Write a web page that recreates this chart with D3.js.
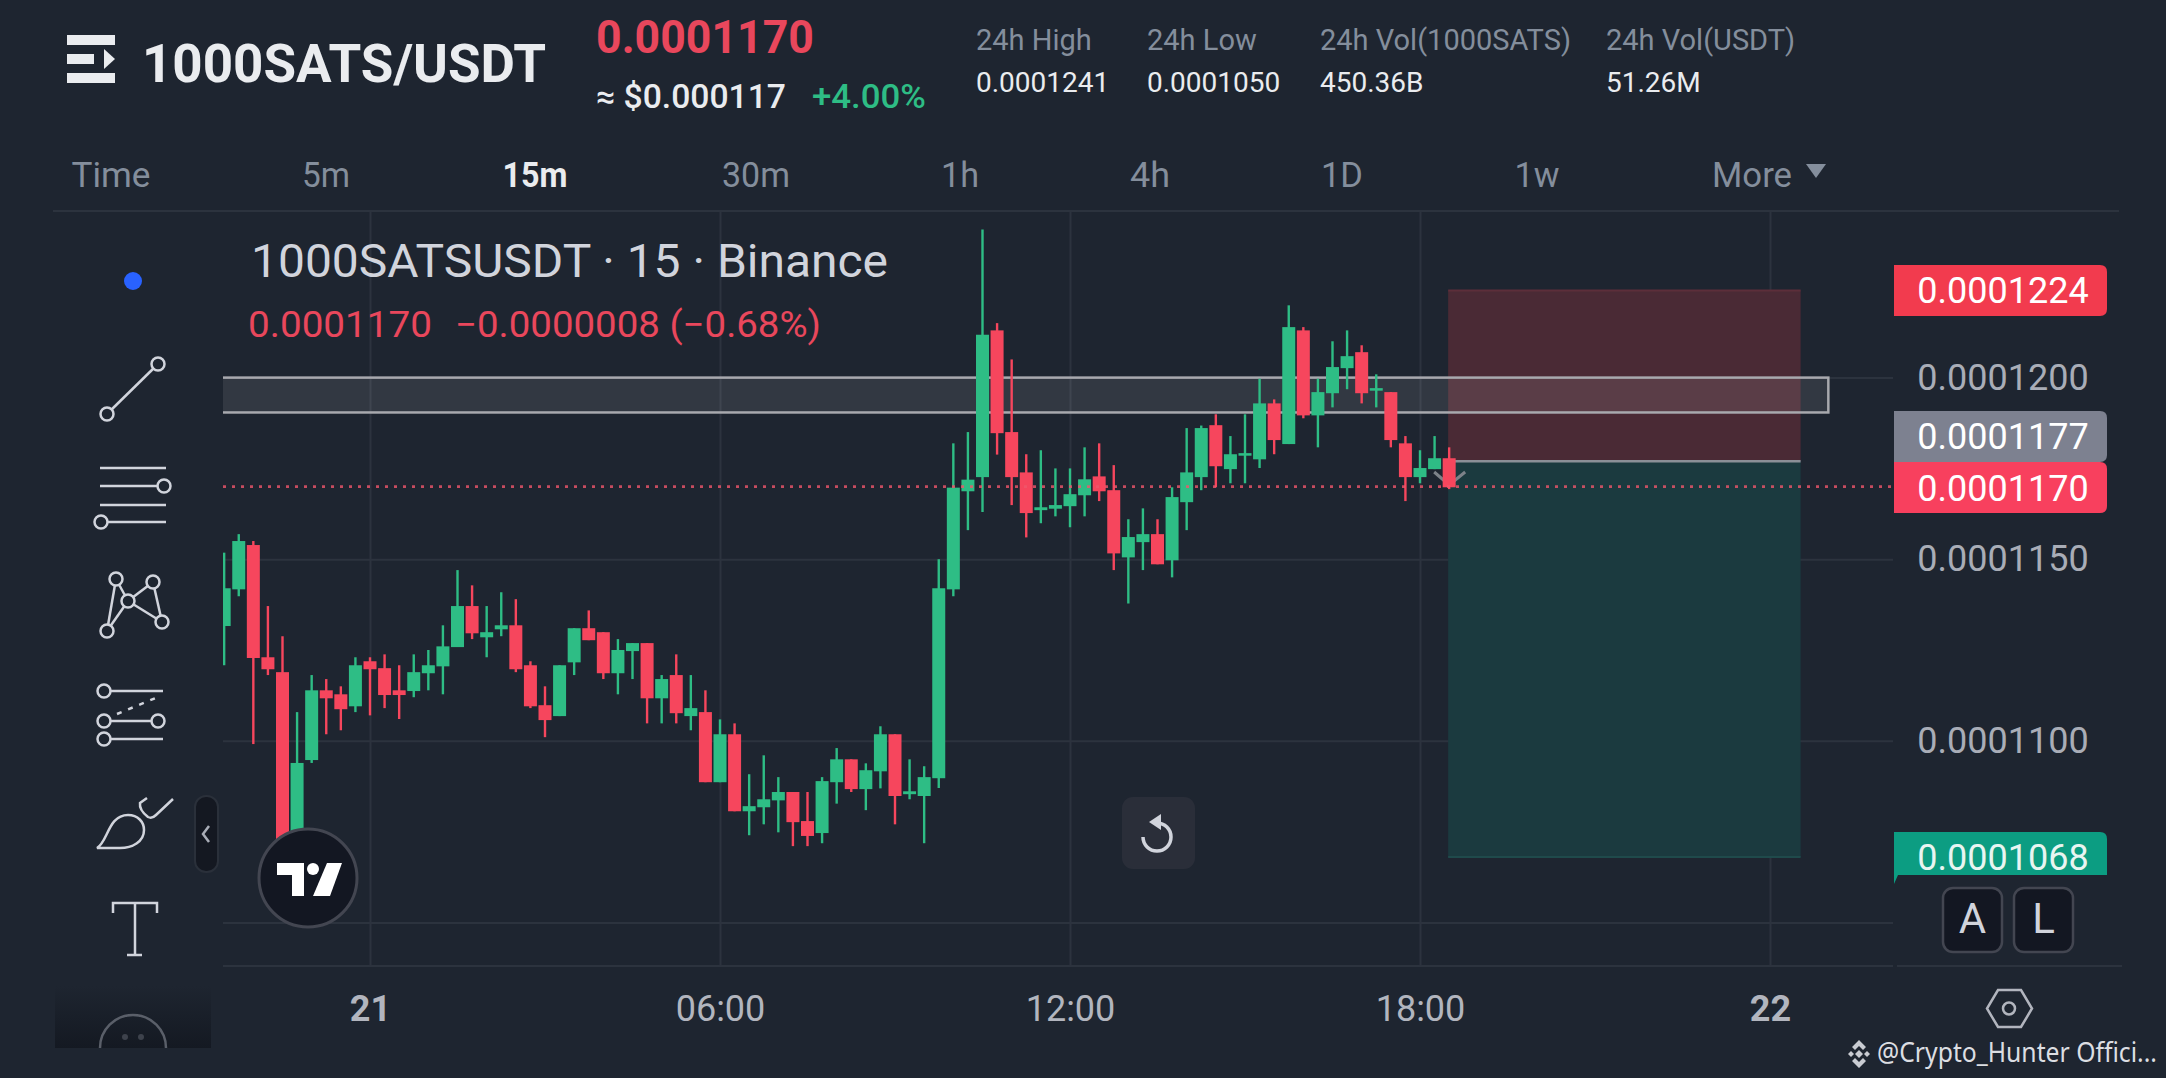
<!DOCTYPE html>
<html>
<head>
<meta charset="utf-8">
<script src="https://cdn.jsdelivr.net/npm/d3@7"></script>
<style>
  html, body { margin: 0; padding: 0; background: #1e2530; overflow: hidden; }
  svg { display: block; }
  text { font-family: Roboto, sans-serif; }
</style>
</head>
<body>
<div id="chart-area"></div>
<script>
// prices are in units of 0.0000001, bar index 0 = the 21st 00:00, one bar = 15 min
const firstBar = -10
const opens = [1131.6,1141.7,1153.9,1123.0,1118.9,1062,1094.7,1113.9,1112.8,1109.5,
  1121.9,1120.0,1113.9,1113.7,1118.6,1120.5,1125.8,1137.1,1128.5,1130.7,
  1131.8,1120.8,1109.8,1106.8,1121.6,1131.0,1129.9,1118.6,1124.7,1126.9,
  1111.7,1118.1,1106.8,1107.9,1088.6,1101.8,1080.6,1081.7,1083.6,1085.9,
  1077.9,1074.6,1088.6,1094.9,1086.7,1091.6,1101.8,1085.3,1084.8,1089.7,
  1141.7,1168.7,1172.6,1213.0,1185.0,1173.9,1163.5,1163.9,1164.6,1167.6,
  1172.8,1169.0,1150.5,1154.7,1156.9,1149.7,1165.7,1172.6,1186.9,1174.8,
  1178.5,1177.5,1192.9,1181.7,1213.0,1189.6,1195.7,1202.6,1207.0,1196.4,
  1196.0,1181.9,1172.6,1174.8,1177.8]
const highs = [1151.8,1156.9,1155.0,1137.1,1128.8,1107.9,1118.1,1117.0,1115.0,1123.0,
  1123.0,1123.8,1120.8,1123.8,1125.0,1131.8,1147.0,1142.8,1137.1,1140.9,
  1139.0,1121.9,1115.0,1120.8,1131.0,1135.9,1129.9,1128.0,1126.9,1126.9,
  1118.1,1123.8,1118.1,1113.9,1105.9,1104.8,1090.8,1096.0,1090.0,1085.9,
  1085.9,1090.0,1098.0,1094.9,1093.8,1104.0,1101.8,1094.9,1093.0,1150.0,
  1181.9,1185.0,1240.8,1215.0,1205.0,1178.9,1180.0,1175.0,1175.0,1180.8,
  1181.9,1175.9,1161.0,1164.0,1161.0,1169.8,1186.1,1186.8,1189.9,1183.9,
  1189.9,1199.7,1194.0,1219.9,1213.9,1199.7,1210.0,1213.0,1208.9,1200.9,
  1196.0,1183.9,1180.0,1183.9,1180.8]
const lows = [1120.8,1139.8,1099.1,1118.1,1058,1056,1093.9,1101.8,1102.9,1107.9,
  1107.0,1109.0,1106.0,1112.0,1113.9,1112.8,1125.9,1128.0,1123.0,1128.8,
  1118.9,1109.0,1101.0,1106.8,1118.1,1127.7,1117.0,1112.8,1117.0,1104.8,
  1104.8,1104.8,1102.9,1088.6,1088.6,1080.6,1074.0,1077.0,1074.8,1071.0,
  1071.0,1071.8,1082.7,1085.9,1080.9,1086.9,1077.0,1083.9,1071.8,1087.0,
  1139.8,1158.0,1163.0,1178.8,1164.9,1156.0,1159.9,1161.8,1158.8,1161.8,
  1166.0,1147.0,1137.8,1147.0,1148.6,1145.0,1158.0,1169.0,1169.8,1170.9,
  1170.9,1175.1,1178.9,1181.7,1188.8,1180.8,1191.8,1196.8,1192.9,1191.8,
  1180.8,1166.0,1170.9,1174.8,1169.3]
const closes = [1142.0,1155.0,1122.8,1119.7,1062,1093.9,1113.9,1111.7,1108.7,1120.8,
  1119.7,1112.6,1112.6,1118.9,1120.8,1126.0,1137.1,1129.6,1129.9,1131.8,
  1119.7,1109.5,1105.7,1120.8,1131.0,1127.7,1118.6,1125.0,1126.9,1111.7,
  1117.0,1107.6,1109.0,1088.6,1101.8,1080.6,1082.0,1083.9,1085.9,1077.6,
  1073.8,1088.9,1094.9,1086.7,1091.9,1101.8,1084.8,1086.1,1090.0,1142.0,
  1169.7,1171.9,1211.8,1184.7,1172.6,1162.7,1164.3,1164.9,1167.9,1172.0,
  1168.7,1151.6,1156.1,1156.9,1148.6,1167.1,1173.9,1186.1,1175.6,1178.9,
  1179.2,1192.9,1182.8,1213.9,1189.6,1196.0,1202.9,1205.9,1195.7,1197.1,
  1182.8,1172.6,1175.1,1177.8,1169.8]

const gridPrices = [1200, 1150, 1100, 1050]
const axisPrices = [1200, 1150, 1100]
const timeTicks = [0, 24, 48, 72, 96]
const timeLabels = ["21", "06:00", "12:00", "18:00", "22"]
const boldTimes = ["21", "22"]

const lastPrice = 1170
const positionEntry = 1177
const positionStop = 1224
const positionTarget = 1068
const positionBars = [73.93, 98.1]
const zonePrices = [1200, 1190.4]
const zoneEndBar = 100

const tabs = ["Time", "5m", "15m", "30m", "1h", "4h", "1D", "1w", "More"]
const tabCenters = [111, 326, 535, 756, 960, 1150, 1342, 1537, 1752]
const tabWidths = [79, 48, 65, 68, 38, 40, 42, 45, 80]
const statNames = ["24h High", "24h Low", "24h Vol(1000SATS)", "24h Vol(USDT)"]
const statValues = ["0.0001241", "0.0001050", "450.36B", "51.26M"]
const statLefts = [976, 1147, 1320, 1606]

const RED = "#f6465d", GREEN = "#2ebd85", BG = "#1e2530", GRID = "#2c333e"
const plot = { left: 223, right: 1893, top: 211, bottom: 966 }

const svg = d3.select("#chart-area").append("svg")
  .attr("width", 2166).attr("height", 1078)

svg.append("rect").attr("width", 2166).attr("height", 1078).attr("fill", BG)

const x = d3.scaleLinear().domain([0, 96]).range([370, 1770])
const y = d3.scaleLinear().domain([1050, 1200]).range([922.4, 377.6])
const priceText = v => d3.format(".7f")(v / 1e7)

const defs = svg.append("defs")
defs.append("clipPath").attr("id", "plot-clip").append("rect")
  .attr("x", plot.left).attr("y", plot.top)
  .attr("width", plot.right - plot.left).attr("height", plot.bottom - plot.top)
const fade = defs.append("linearGradient").attr("id", "tool-fade")
  .attr("x1", 0).attr("y1", 0).attr("x2", 0).attr("y2", 1)
fade.append("stop").attr("offset", 0).attr("stop-color", BG)
fade.append("stop").attr("offset", 1).attr("stop-color", "#141922")

function label(parent, str, px, py, size, color, o) {
  o = o || {}
  const t = parent.append("text")
    .attr("x", px).attr("y", py)
    .attr("font-size", size)
    .attr("fill", color)
    .attr("text-anchor", o.anchor || "start")
    .attr("font-weight", o.weight || 400)
    .text(str)
  if (o.len) t.attr("textLength", o.len).attr("lengthAdjust", "spacingAndGlyphs")
  if (o.family) t.style("font-family", o.family)
  return t
}

drawHeader()
drawGrid()

const chart = svg.append("g").attr("clip-path", "url(#plot-clip)")
drawPosition()
drawZone()
drawCandles()
drawLastLine()

drawPriceTags()
drawTimeAxis()
drawTools()
drawBadges()

function drawHeader() {
  const g = svg.append("g")
  // menu icon
  g.append("rect").attr("x", 67).attr("y", 35).attr("width", 48).attr("height", 10).attr("fill", "#eaecef")
  g.append("rect").attr("x", 67).attr("y", 54).attr("width", 27).attr("height", 10).attr("fill", "#eaecef")
  g.append("rect").attr("x", 67).attr("y", 73).attr("width", 48).attr("height", 10).attr("fill", "#eaecef")
  g.append("path").attr("d", "M104 49 L115 59 L104 69 Z").attr("fill", "#eaecef")

  label(g, "1000SATS/USDT", 142, 82, 54, "#eaecef", { weight: 700, len: 404 })
  label(g, "0.0001170", 596, 53, 47, "#e9475c", { weight: 700, len: 218 })
  label(g, "≈ $0.000117", 596, 108, 33, "#eaecef", { weight: 500, len: 190 })
  label(g, "+4.00%", 812, 108, 33, GREEN, { weight: 500, len: 114 })

  statNames.forEach((name, i) => {
    label(g, name, statLefts[i], 50, 29, "#848e9c")
    label(g, statValues[i], statLefts[i], 92, 28, "#eaecef")
  })

  tabs.forEach((tab, i) => {
    const active = tab === "15m"
    label(g, tab, tabCenters[i], 187, 35, active ? "#eaecef" : "#848e9c",
      { anchor: "middle", weight: active ? 700 : 400, len: tabWidths[i] })
  })
  g.append("path").attr("d", "M1806 164 H1826 L1816 178 Z").attr("fill", "#848e9c")

  g.append("line").attr("x1", 53).attr("x2", 2119).attr("y1", 211).attr("y2", 211)
    .attr("stroke", GRID).attr("stroke-width", 2)
  g.append("line").attr("x1", plot.left).attr("x2", plot.right).attr("y1", plot.bottom).attr("y2", plot.bottom)
    .attr("stroke", GRID).attr("stroke-width", 2)
  g.append("line").attr("x1", 1897).attr("x2", 2122).attr("y1", plot.bottom).attr("y2", plot.bottom)
    .attr("stroke", GRID).attr("stroke-width", 2)
}

function drawGrid() {
  const hGrid = svg.append("g").attr("transform", `translate(${plot.right},0)`)
    .call(d3.axisLeft(y).tickValues(gridPrices).tickSize(plot.right - plot.left).tickFormat(""))
  hGrid.select(".domain").remove()
  hGrid.selectAll("line").attr("stroke", GRID).attr("stroke-width", 2)

  const vGrid = svg.append("g").attr("transform", `translate(0,${plot.bottom})`)
    .call(d3.axisTop(x).tickValues(timeTicks).tickSize(plot.bottom - plot.top).tickFormat(""))
  vGrid.select(".domain").remove()
  vGrid.selectAll("line").attr("stroke", GRID).attr("stroke-width", 2)

  const yAxis = svg.append("g").attr("transform", "translate(2003,0)")
    .call(d3.axisRight(y).tickValues(axisPrices).tickSize(0).tickPadding(0).tickFormat(priceText))
  yAxis.select(".domain").remove()
  yAxis.selectAll("text")
    .attr("text-anchor", "middle")
    .attr("font-size", 36)
    .attr("fill", "#a9adb7")
    .style("font-family", "Roboto, sans-serif")
}

function drawPosition() {
  const x0 = x(positionBars[0]), w = x(positionBars[1]) - x0
  chart.append("rect").attr("x", x0).attr("y", y(positionStop))
    .attr("width", w).attr("height", y(positionEntry) - y(positionStop))
    .attr("fill", "#4a2a35")
  chart.append("rect").attr("x", x0).attr("y", y(positionEntry))
    .attr("width", w).attr("height", y(positionTarget) - y(positionEntry))
    .attr("fill", "#1b3a3f")
  chart.append("line").attr("x1", x0).attr("x2", x0 + w)
    .attr("y1", y(positionStop)).attr("y2", y(positionStop))
    .attr("stroke", "#5c2e3a").attr("stroke-width", 2)
  chart.append("line").attr("x1", x0).attr("x2", x0 + w)
    .attr("y1", y(positionTarget)).attr("y2", y(positionTarget))
    .attr("stroke", "#1f4a4b").attr("stroke-width", 2)
  chart.append("line").attr("x1", x0).attr("x2", x0 + w)
    .attr("y1", y(positionEntry)).attr("y2", y(positionEntry))
    .attr("stroke", "#8b8f97").attr("stroke-width", 2.5)
}

function drawZone() {
  const right = x(zoneEndBar)
  chart.append("rect")
    .attr("x", plot.left - 5).attr("y", y(zonePrices[0]))
    .attr("width", right - plot.left + 5).attr("height", y(zonePrices[1]) - y(zonePrices[0]))
    .attr("fill", "rgba(255,255,255,0.09)")
    .attr("stroke", "#a8a9ae").attr("stroke-width", 2.5)
}

function drawCandles() {
  const bars = opens.map((o, i) => ({
    i: firstBar + i, o, h: highs[i], l: lows[i], c: closes[i]
  }))
  const colour = d => d.c >= d.o ? GREEN : RED

  // the arrow mark sits under the last candle
  const last = x(bars[bars.length - 1].i)
  chart.append("path")
    .attr("d", `M${last - 15} 472 L${last} 485 L${last + 16} 472`)
    .attr("fill", "none").attr("stroke", "#7d8289").attr("stroke-width", 3)

  chart.selectAll("line.wick").data(bars).enter().append("line")
    .attr("class", "wick")
    .attr("x1", d => x(d.i)).attr("x2", d => x(d.i))
    .attr("y1", d => y(d.h)).attr("y2", d => y(d.l))
    .attr("stroke", colour).attr("stroke-width", 2.4)

  chart.selectAll("rect.body").data(bars).enter().append("rect")
    .attr("class", "body")
    .attr("x", d => x(d.i) - 6.5)
    .attr("width", 13)
    .attr("y", d => y(Math.max(d.o, d.c)))
    .attr("height", d => Math.max(1.5, Math.abs(y(d.o) - y(d.c))))
    .attr("fill", colour)
}

function drawLastLine() {
  chart.append("line").attr("x1", plot.left).attr("x2", plot.right)
    .attr("y1", y(lastPrice)).attr("y2", y(lastPrice))
    .attr("stroke", "#f0566c").attr("stroke-opacity", 0.8)
    .attr("stroke-width", 2.8).attr("stroke-dasharray", "3 6")
}

function priceTag(top, bottom, fill, str, baseline, textFill) {
  const l = 1894, r = 2107, c = 7
  svg.append("path")
    .attr("d", `M${l} ${top} H${r - c} Q${r} ${top} ${r} ${top + c} V${bottom - c} Q${r} ${bottom} ${r - c} ${bottom} H${l} Z`)
    .attr("fill", fill)
  label(svg, str, 2003, baseline, 36, textFill || "#ffffff", { anchor: "middle" })
}

function drawPriceTags() {
  priceTag(265, 316, "#f23b4e", priceText(positionStop), 303)
  priceTag(411, 462, "#7d8190", priceText(positionEntry), 449)
  priceTag(462, 513, "#f8405e", priceText(lastPrice), 501)
  // the target tag is cut by the A / L strip
  svg.append("path")
    .attr("d", "M1894 832 H2100 Q2107 832 2107 839 V875 H1898 L1894 884 Z")
    .attr("fill", "#0c9d82")
  label(svg, priceText(positionTarget), 2003, 870, 36, "#e8f5f1", { anchor: "middle" })
}

function drawTimeAxis() {
  const xAxis = svg.append("g").attr("transform", `translate(0,${plot.bottom})`)
    .call(d3.axisBottom(x).tickValues(timeTicks).tickSize(0).tickPadding(0)
      .tickFormat((d, i) => timeLabels[i]))
  xAxis.select(".domain").remove()
  xAxis.selectAll("text")
    .attr("y", 55).attr("dy", 0)
    .attr("font-size", 36)
    .attr("fill", "#b2b5be")
    .style("font-family", "Roboto, sans-serif")
    .attr("font-weight", (d, i) => boldTimes.includes(timeLabels[i]) ? 700 : 400)
}

function drawTools() {
  const g = svg.append("g").attr("fill", "none").attr("stroke", "#d1d4dc").attr("stroke-width", 2.5)
  const seg = (x1, y1, x2, y2) => g.append("line").attr("x1", x1).attr("y1", y1).attr("x2", x2).attr("y2", y2)
  const ring = (cx, cy) => g.append("circle").attr("cx", cx).attr("cy", cy).attr("r", 6.5).attr("fill", BG)

  svg.append("circle").attr("cx", 133).attr("cy", 281).attr("r", 9).attr("fill", "#2962ff")

  seg(107, 414, 158, 364); ring(107, 414); ring(158, 364)

  seg(100, 468, 166, 468); seg(100, 486, 166, 486); seg(100, 505, 166, 505); seg(101, 522, 166, 522)
  ring(164, 486); ring(101, 522)

  seg(107, 631, 116, 579); seg(116, 579, 128, 601); seg(107, 631, 128, 601)
  seg(128, 601, 153, 582); seg(153, 582, 162, 622); seg(128, 601, 162, 622)
  ring(116, 579); ring(153, 582); ring(128, 601); ring(162, 622); ring(107, 631)

  seg(104, 691, 163, 691); seg(104, 721, 158, 721); seg(104, 739, 163, 739)
  seg(117, 714, 158, 697).attr("stroke-dasharray", "5 7")
  ring(104, 691); ring(104, 721); ring(158, 721); ring(104, 739)

  g.append("path").attr("d", "M97 848 C108 842 108 815 128 815 C138 815 144 822 144 830 C144 842 132 848 120 848 Z")
  g.append("path").attr("d", "M147 798 L140 803 Q139 810 148 817 Q152 819 156 815 L173 799")

  g.append("path").attr("d", "M113 913 V903 H157 V913 M135 903 V955 M127 955 H142")

  // faded button at the bottom of the toolbar
  svg.append("rect").attr("x", 55).attr("y", 986).attr("width", 156).attr("height", 62).attr("fill", "url(#tool-fade)")
  svg.append("path").attr("d", "M100 1048 A33 33 0 0 1 166 1048").attr("fill", "none")
    .attr("stroke", "#5a5f69").attr("stroke-width", 2.5)
  svg.append("circle").attr("cx", 125).attr("cy", 1037).attr("r", 3).attr("fill", "#3d424c")
  svg.append("circle").attr("cx", 141).attr("cy", 1037).attr("r", 3).attr("fill", "#3d424c")

  // collapse pill
  svg.append("rect").attr("x", 195).attr("y", 796).attr("width", 23).attr("height", 76).attr("rx", 11)
    .attr("fill", "#141821").attr("stroke", "#2a303a").attr("stroke-width", 2)
  svg.append("path").attr("d", "M209 826 L203 834 L209 842").attr("fill", "none")
    .attr("stroke", "#a9adb7").attr("stroke-width", 2.5)

  // legend
  label(svg, "1000SATSUSDT · 15 · Binance", 251, 277, 46, "#d1d4dc", { len: 637 })
  label(svg, "0.0001170", 248, 337, 36, "#e9475c", { len: 184 })
  label(svg, "−0.0000008 (−0.68%)", 455, 337, 36, "#e9475c", { len: 366 })
}

function drawBadges() {
  // TradingView badge
  svg.append("circle").attr("cx", 308).attr("cy", 878).attr("r", 49)
    .attr("fill", "#131722").attr("stroke", "#434651").attr("stroke-width", 3)
  svg.append("path").attr("d", "M277 863 H304 V896 H292 V875 H277 Z").attr("fill", "#fff")
  svg.append("circle").attr("cx", 313).attr("cy", 869).attr("r", 6).attr("fill", "#fff")
  svg.append("path").attr("d", "M327 863 H342 L330 896 H313 Z").attr("fill", "#fff")

  // reset button
  svg.append("rect").attr("x", 1122).attr("y", 797).attr("width", 73).attr("height", 72).attr("rx", 11).attr("fill", "#2a2e39")
  svg.append("path").attr("d", "M1157 823 A14 14 0 1 1 1143 837").attr("fill", "none")
    .attr("stroke", "#d1d4dc").attr("stroke-width", 3.5)
  svg.append("path").attr("d", "M1149 822 L1161 814 V830 Z").attr("fill", "#d1d4dc")

  // auto / log buttons
  ;[["A", 1943], ["L", 2014]].forEach(b => {
    svg.append("rect").attr("x", b[1]).attr("y", 888).attr("width", 59).attr("height", 64).attr("rx", 10)
      .attr("fill", "#131722").attr("stroke", "#434651").attr("stroke-width", 2.5)
    label(svg, b[0], b[1] + 29.5, 933, 42, "#d1d4dc", { anchor: "middle" })
  })

  // settings hexagon
  svg.append("path").attr("d", "M1998 990 H2021 L2032 1008.5 L2021 1027 H1998 L1987 1008.5 Z")
    .attr("fill", "none").attr("stroke", "#b2b5be").attr("stroke-width", 2.5)
  svg.append("circle").attr("cx", 2009).attr("cy", 1008.5).attr("r", 6)
    .attr("fill", "none").attr("stroke", "#b2b5be").attr("stroke-width", 2.5)

  // watermark
  const mark = svg.append("g").attr("fill", "#c9ccd2")
  mark.append("path").attr("d", "M1859 1040 L1866 1047 L1863 1050 L1859 1046 L1855 1050 L1852 1047 Z")
  mark.append("path").attr("d", "M1859 1068 L1866 1061 L1863 1058 L1859 1062 L1855 1058 L1852 1061 Z")
  mark.append("path").attr("d", "M1859 1050 L1863 1054 L1859 1058 L1855 1054 Z")
  mark.append("path").attr("d", "M1848 1054 L1851 1051 L1854 1054 L1851 1057 Z")
  mark.append("path").attr("d", "M1870 1054 L1867 1051 L1864 1054 L1867 1057 Z")
  label(svg, "@Crypto_Hunter Offici...", 1877, 1062, 27, "#dcdee2", { family: "'Noto Sans', sans-serif", len: 280 })
}
</script>
</body>
</html>
